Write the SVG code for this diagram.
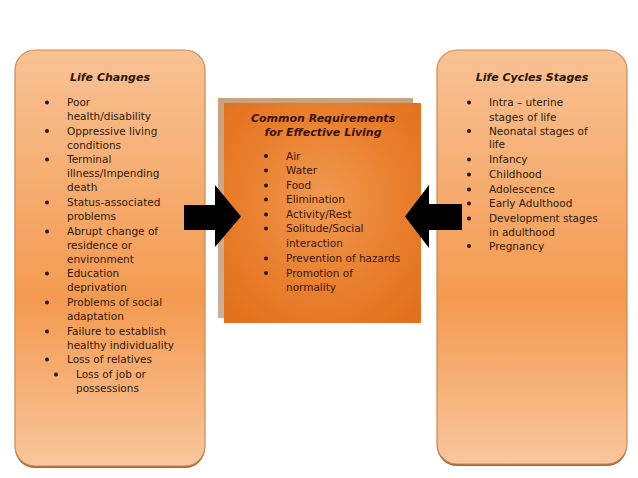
<svg xmlns="http://www.w3.org/2000/svg" width="638" height="478" viewBox="0 0 638 478">
<defs>
<linearGradient id="panelGrad" x1="0" y1="0" x2="0" y2="1">
<stop offset="0" stop-color="#f8c294"/>
<stop offset="0.6" stop-color="#f49a50"/>
<stop offset="1" stop-color="#f9c69c"/>
</linearGradient>
<radialGradient id="centerGrad" cx="0.5" cy="0.45" r="0.7">
<stop offset="0" stop-color="#f19a52"/>
<stop offset="0.55" stop-color="#e9802e"/>
<stop offset="1" stop-color="#e2701c"/>
</radialGradient>
<linearGradient id="shadowGrad" x1="0" y1="0" x2="0" y2="1">
<stop offset="0" stop-color="#c9a27e"/>
<stop offset="1" stop-color="#cdb09a"/>
</linearGradient>
</defs>
<style>
.panel{fill:url(#panelGrad);stroke:#c98a55;stroke-width:1.2}
.pshadow{fill:#a8683a}
.title{font-family:"DejaVu Sans",Verdana,sans-serif;font-size:11px;font-weight:bold;font-style:italic;fill:#2a1508;text-anchor:middle}
.ctitle{font-family:"DejaVu Sans",Verdana,sans-serif;font-size:11px;font-weight:bold;font-style:italic;fill:#3a1204;text-anchor:middle}
.item{font-family:"DejaVu Sans",Verdana,sans-serif;font-size:10.5px;fill:#2e1a0e}
.citem{font-family:"DejaVu Sans",Verdana,sans-serif;font-size:10.5px;fill:#3a1505}
.bul{fill:#2a1508}
.arrow{fill:#000000}
</style>
<rect width="638" height="478" fill="#ffffff"/>

<g id="life-changes">
<rect class="pshadow" x="15" y="52" width="190" height="416" rx="20"/>
<rect class="panel" x="15" y="50" width="190" height="416" rx="20"/>
<text class="title" x="110" y="81">Life Changes</text>
<g class="item">
<text x="67" y="106">Poor</text>
<text x="67" y="120">health/disability</text>
<text x="67" y="134.5">Oppressive living</text>
<text x="67" y="148.5">conditions</text>
<text x="67" y="163">Terminal</text>
<text x="67" y="177">illness/Impending</text>
<text x="67" y="191">death</text>
<text x="67" y="206">Status-associated</text>
<text x="67" y="220">problems</text>
<text x="67" y="235">Abrupt change  of</text>
<text x="67" y="249">residence or</text>
<text x="67" y="263">environment</text>
<text x="67" y="277">Education</text>
<text x="67" y="291">deprivation</text>
<text x="67" y="306">Problems of social</text>
<text x="67" y="320">adaptation</text>
<text x="67" y="335">Failure to establish</text>
<text x="67" y="349">healthy individuality</text>
<text x="67" y="363">Loss of relatives</text>
<text x="76" y="378">Loss of job or</text>
<text x="76" y="392">possessions</text>
</g>
<g class="bul">
<circle cx="47" cy="102.5" r="2"/>
<circle cx="47" cy="131" r="2"/>
<circle cx="47" cy="159.5" r="2"/>
<circle cx="47" cy="202.5" r="2"/>
<circle cx="47" cy="231.5" r="2"/>
<circle cx="47" cy="273.5" r="2"/>
<circle cx="47" cy="302.5" r="2"/>
<circle cx="47" cy="331.5" r="2"/>
<circle cx="47" cy="359.5" r="2"/>
<circle cx="56" cy="374.5" r="2"/>
</g>
</g>

<g id="common-requirements">
<rect x="218" y="98" width="195" height="220" fill="url(#shadowGrad)"/>
<rect x="224" y="103" width="197" height="220" fill="url(#centerGrad)"/>
<text class="ctitle" x="323" y="122">Common Requirements</text>
<text class="ctitle" x="323" y="135.5">for Effective Living</text>
<g class="citem">
<text x="286" y="159.5">Air</text>
<text x="286" y="174">Water</text>
<text x="286" y="189">Food</text>
<text x="286" y="203">Elimination</text>
<text x="286" y="218">Activity/Rest</text>
<text x="286" y="232">Solitude/Social</text>
<text x="286" y="247">interaction</text>
<text x="286" y="262">Prevention of hazards</text>
<text x="286" y="276.5">Promotion of</text>
<text x="286" y="290.5">normality</text>
</g>
<g class="bul" fill="#3a1505">
<circle cx="266" cy="156" r="2"/>
<circle cx="266" cy="170.5" r="2"/>
<circle cx="266" cy="185.5" r="2"/>
<circle cx="266" cy="199.5" r="2"/>
<circle cx="266" cy="214.5" r="2"/>
<circle cx="266" cy="228.5" r="2"/>
<circle cx="266" cy="258.5" r="2"/>
<circle cx="266" cy="273" r="2"/>
</g>
</g>

<g id="life-cycles-stages">
<rect class="pshadow" x="437" y="52" width="190" height="414" rx="20"/>
<rect class="panel" x="437" y="50" width="190" height="414" rx="20"/>
<text class="title" x="532" y="81">Life Cycles Stages</text>
<g class="item">
<text x="489" y="106">Intra – uterine</text>
<text x="489" y="120.5">stages of life</text>
<text x="489" y="134.5">Neonatal stages of</text>
<text x="489" y="148">life</text>
<text x="489" y="163">Infancy</text>
<text x="489" y="178">Childhood</text>
<text x="489" y="193">Adolescence</text>
<text x="489" y="207">Early Adulthood</text>
<text x="489" y="222">Development stages</text>
<text x="489" y="235.5">in adulthood</text>
<text x="489" y="249.5">Pregnancy</text>
</g>
<g class="bul">
<circle cx="469" cy="102.5" r="2"/>
<circle cx="469" cy="131" r="2"/>
<circle cx="469" cy="159.5" r="2"/>
<circle cx="469" cy="174.5" r="2"/>
<circle cx="469" cy="189.5" r="2"/>
<circle cx="469" cy="203.5" r="2"/>
<circle cx="469" cy="218.5" r="2"/>
<circle cx="469" cy="246" r="2"/>
</g>
</g>

<g id="connectors">
<polygon class="arrow" points="184,205 215,205 215,185 241,216.5 215,247 215,230 184,230"/>
<polygon class="arrow" points="462,204 429,204 429,185 405,216.5 429,248 429,230 462,230"/>
</g>
</svg>
